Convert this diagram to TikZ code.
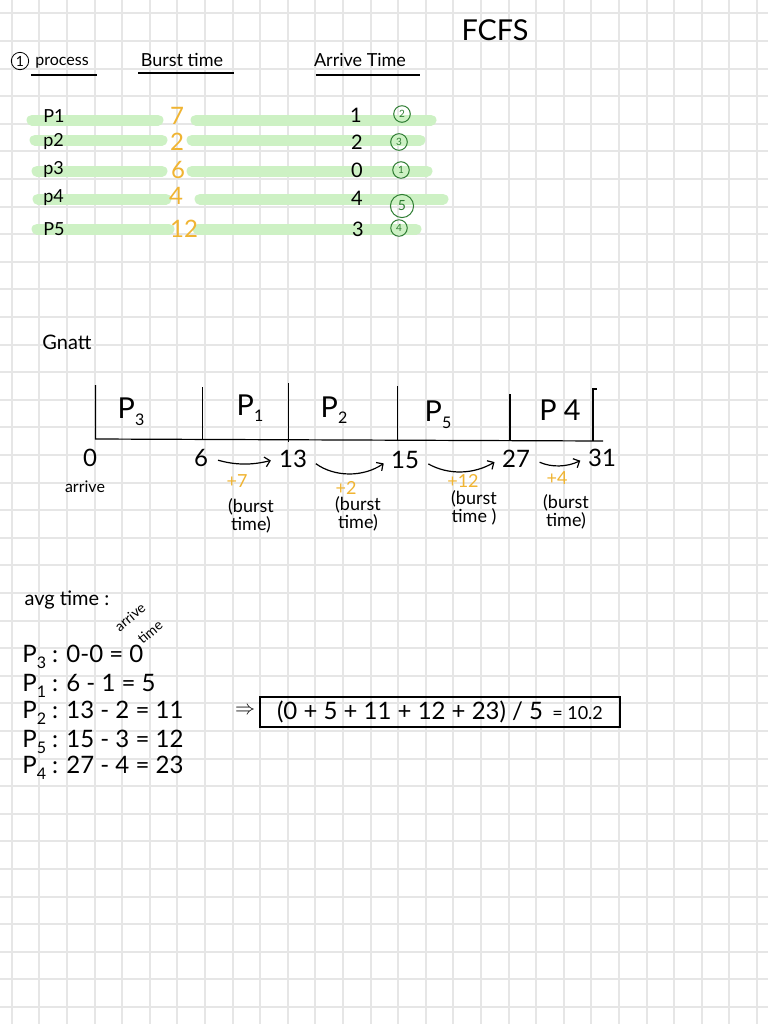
\documentclass[tikz,border=0pt]{standalone}
\usepackage{fontspec}
\setmainfont{Lato}
\usetikzlibrary{arrows.meta, positioning}

\definecolor{gridgray}{HTML}{E6E6E6}
\definecolor{hilite}{HTML}{CDF1C4}
\definecolor{burstorange}{HTML}{F0B432}
\definecolor{rankgreen}{HTML}{2E7D32}

\newcommand{\psub}[1]{\raisebox{-0.45ex}{\footnotesize #1}}

\begin{document}
\begin{tikzpicture}[
  x=0.5pt, y=-0.5pt,
  font=\small,
  >={Straight Barb[length=2.5pt,width=5pt]},
  every node/.style={inner sep=1pt},
  gridln/.style={gridgray, line width=1pt},
  hibar/.style={hilite, line width=5.5pt, line cap=round},
  uline/.style={line width=0.8pt},
  hdr/.style={font=\small},
  pcell/.style={font=\small, anchor=west},
  burst/.style={text=burstorange, font=\large},
  arrv/.style={font=\normalsize},
  rank/.style={draw=rankgreen, text=rankgreen, circle, inner sep=1.3pt,
               font=\tiny, line width=0.5pt},
  slot/.style={line width=0.6pt},
  plbl/.style={font=\Large},
  tval/.style={font=\large},
  jump/.style={->, line width=0.6pt, shorten <=4pt, shorten >=3pt},
  plus/.style={text=burstorange, font=\small},
  note/.style={font=\small, align=center},
  tilted/.style={font=\scriptsize, rotate=40, inner sep=0pt},
  calc/.style={font=\large, anchor=west}
]

\useasboundingbox (0,0) rectangle (768,1024);
\fill[white] (0,0) rectangle (768,1024);

% grid paper
\foreach \i in {0,...,27}
  \draw[gridln] (11.7+27.6*\i,0) -- (11.7+27.6*\i,1024);
\foreach \j in {0,...,36}
  \draw[gridln] (0,13.3+27.6*\j) -- (768,13.3+27.6*\j);

\node[font=\Large] (title) at (495,30) {FCFS};

% table
\node[draw, circle, inner sep=0.8pt, font=\scriptsize] (qnum) at (20,61) {1};
\node[font=\footnotesize] (hproc) at (62,63) {process};
\node[hdr] (hburst) at (182,60) {Burst time};
\node[hdr] (harr) at (360,60) {Arrive Time};
\draw[uline] ([xshift=-1pt,yshift=-2pt]hproc.south west) -- ([xshift=3pt,yshift=-2pt]hproc.south east);
\draw[uline] ([xshift=0pt,yshift=-2pt]hburst.south west) -- ([xshift=4pt,yshift=-2pt]hburst.south east);
\draw[uline] ([xshift=2pt,yshift=-3pt]harr.south west) -- ([xshift=6pt,yshift=-3pt]harr.south east);

\draw[hibar] (32,120) -- (158,120);
\draw[hibar] (196,120) -- (431,120);
\draw[hibar] (35,140) -- (162,140);
\draw[hibar] (192,140) -- (420,140);
\draw[hibar] (37,171) -- (162,171);
\draw[hibar] (192,171) -- (427,171);
\draw[hibar] (38,199) -- (166,199);
\draw[hibar] (200,199) -- (443,199);
\draw[hibar] (37,229) -- (169,229);
\draw[hibar] (198,229) -- (416,229);

\node[pcell] (p1) at (41,116) {P1};
\node[burst] (b1) at (177,116) {7};
\node[arrv] (a1) at (356,115) {1};
\node[rank] (r1) at (402,114) {2};

\node[pcell] (p2) at (41,142) {p2};
\node[burst] (b2) at (177,142) {2};
\node[arrv] (a2) at (357,142) {2};
\node[rank] (r2) at (399,142) {3};

\node[pcell] (p3) at (41,170) {p3};
\node[burst] (b3) at (178,170) {6};
\node[arrv] (a3) at (357,170) {0};
\node[rank] (r3) at (401,170) {1};

\node[pcell] (p4) at (41,198) {p4};
\node[burst] (b4) at (176,196) {4};
\node[arrv] (a4) at (357,198) {4};
\node[rank, inner sep=1.8pt, font=\scriptsize] (r4) at (402,206) {5};

\node[pcell] (p5) at (41,229) {P5};
\node[burst] (b5) at (184,229) {12};
\node[arrv] (a5) at (358,229) {3};
\node[rank] (r5) at (399,228) {4};

% gantt chart
\node[font=\normalsize] (gantt) at (67,342) {Gnatt};

\draw[slot] (95.5,385) -- (95.5,439) -- (603,441);
\draw[slot] (202.6,387) -- (202.6,440);
\draw[slot] (288.8,383) -- (288.8,442);
\draw[slot] (397.8,386) -- (397.8,441);
\draw[slot] (510,394) -- (510,440);
\draw[slot] (597,389) -- (593,389) -- (593,441);

\node[plbl] (gp3) at (131,412) {P\psub{3}};
\node[plbl] (gp1) at (250,408) {P\psub{1}};
\node[plbl] (gp2) at (334,410) {P\psub{2}};
\node[plbl] (gp5) at (438,415) {P\psub{5}};
\node[plbl] (gp4) at (560,410) {P 4};

\node[tval] (t0) at (90,458) {0};
\node[tval] (t6) at (201,458) {6};
\node[tval] (t13) at (293,459) {13};
\node[tval] (t15) at (405,460) {15};
\node[tval] (t27) at (516,459) {27};
\node[tval] (t31) at (602,458) {31};

\draw[jump] (t6.east) to[bend right=15] (t13.west);
\draw[jump] (t13.east) to[bend right=35] (t15.west);
\draw[jump] (t15.east) to[bend right=30] (t27.west);
\draw[jump] (t27.east) to[bend right=25] (t31.west);

\node[font=\footnotesize] (arrive) at (85,487) {arrive};

\node[plus] (d1) at (237,481) {+7};
\node[plus] (d2) at (346,488) {+2};
\node[plus] (d3) at (463,481) {+12};
\node[plus] (d4) at (557,478) {+4};

\node[note] (n1) at (251,516) {(burst\\[-2pt]time)};
\node[note] (n2) at (358,514) {(burst\\[-2pt]time)};
\node[note] (n3) at (474,508) {(burst\\[-2pt]time )};
\node[note] (n4) at (566,512) {(burst\\[-2pt]time)};

% average
\node[font=\normalsize] (avg) at (67,600) {avg time :};
\node[tilted] (atop) at (130,617) {arrive};
\node[tilted] (abot) at (150,632) {time};

\node[calc] (c3) at (20,657) {P\psub{3} : 0-0 = 0};
\node[calc] (c1) at (20,686) {P\psub{1} : 6 - 1 = 5};
\node[calc] (c2) at (20,713) {P\psub{2} : 13 - 2 = 11};
\node[calc] (c5) at (20,742) {P\psub{5} : 15 - 3 = 12};
\node[calc] (c4) at (20,768) {P\psub{4} : 27 - 4 = 23};

\node[font=\normalsize] (impl) at (245,711) {$\Rightarrow$};
\node[draw, line width=0.7pt, minimum width=180pt, minimum height=15pt,
      inner sep=2pt] (res) at (440,712)
  {{\large (0 + 5 + 11 + 12 + 23) / 5}\ \ {\small = 10.2}};

\end{tikzpicture}
\end{document}
